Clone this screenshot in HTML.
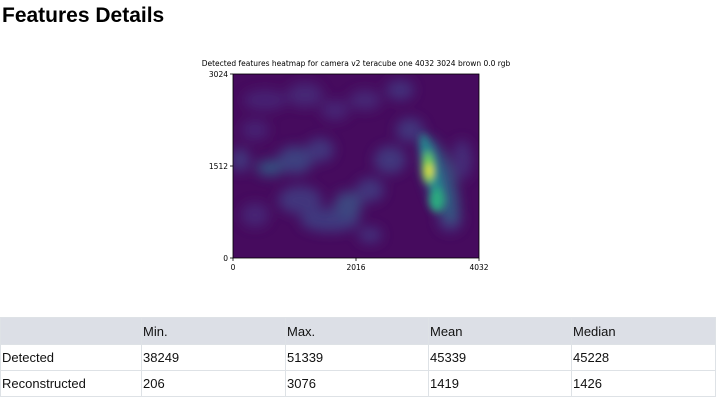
<!DOCTYPE html>
<html><head><meta charset="utf-8"><style>
body{margin:0;width:718px;height:402px;background:#fff;font-family:"Liberation Sans",Arial,sans-serif;position:relative;overflow:hidden}
h1{position:absolute;left:2px;top:4px;margin:0;font-size:21px;font-weight:bold;color:#000}
table{position:absolute;left:0;top:317px;border-collapse:collapse;width:716px;font-size:13px;color:#111}
td,th{border:1px solid #dee2e6;padding:0 0 0 1px;text-align:left;font-weight:normal;height:25px}
thead th{background:#dcdfe6;height:26px}
.t{font-size:7.5px;font-family:"DejaVu Sans",sans-serif;fill:#000}
</style></head><body>
<h1>Features Details</h1>
<svg width="718" height="300" style="position:absolute;left:0;top:0">
<defs>
<filter id="b" x="-30%" y="-30%" width="160%" height="160%"><feGaussianBlur stdDeviation="6"/></filter>
<filter id="b2" x="-50%" y="-50%" width="200%" height="200%"><feGaussianBlur stdDeviation="4"/></filter>
<clipPath id="c"><rect x="233" y="74" width="246" height="184"/></clipPath>
</defs>
<text class="t" x="356" y="66" text-anchor="middle">Detected features heatmap for camera v2 teracube one 4032 3024 brown 0.0 rgb</text>
<g clip-path="url(#c)">
<rect x="233" y="74" width="246" height="184" fill="#460b5e"/>
<g filter="url(#b)" opacity="0.75">
<ellipse cx="240" cy="160" rx="10" ry="12" fill="#3f4788"/>
<ellipse cx="270" cy="168" rx="14" ry="8" fill="#2e6b8e"/>
<ellipse cx="295" cy="160" rx="18" ry="14" fill="#3b528b"/>
<ellipse cx="320" cy="150" rx="14" ry="12" fill="#414487"/>
<ellipse cx="300" cy="200" rx="22" ry="14" fill="#414487"/>
<ellipse cx="330" cy="220" rx="30" ry="12" fill="#3e4a89"/>
<ellipse cx="348" cy="205" rx="14" ry="14" fill="#3b5b8c"/>
<ellipse cx="370" cy="190" rx="14" ry="12" fill="#414487"/>
<ellipse cx="370" cy="235" rx="12" ry="8" fill="#433e85"/>
<ellipse cx="265" cy="100" rx="22" ry="10" fill="#472c7a"/>
<ellipse cx="305" cy="95" rx="18" ry="12" fill="#46337e"/>
<ellipse cx="335" cy="110" rx="14" ry="10" fill="#472f7d"/>
<ellipse cx="365" cy="100" rx="16" ry="10" fill="#46337e"/>
<ellipse cx="400" cy="90" rx="14" ry="10" fill="#433e85"/>
<ellipse cx="410" cy="130" rx="14" ry="12" fill="#414487"/>
<ellipse cx="390" cy="160" rx="16" ry="14" fill="#3f4788"/>
<ellipse cx="255" cy="215" rx="14" ry="12" fill="#472f7d"/>
<ellipse cx="255" cy="130" rx="14" ry="10" fill="#472c7a"/>
<ellipse cx="462" cy="160" rx="10" ry="20" fill="#453781"/>
<ellipse cx="450" cy="220" rx="12" ry="12" fill="#433e85"/>
<ellipse cx="440" cy="180" rx="14" ry="45" fill="#2f6f8e" transform="rotate(-18 440 180)"/>
</g>
<g filter="url(#b2)">
<ellipse cx="432" cy="170" rx="7" ry="38" fill="#25858e" transform="rotate(-15 432 170)"/>
<ellipse cx="437" cy="200" rx="8" ry="12" fill="#2aaa80"/>
<ellipse cx="428" cy="168" rx="6" ry="16" fill="#6ccd5a"/>
<ellipse cx="429" cy="171" rx="3" ry="7" fill="#fde725"/>
</g>
</g>
<rect x="233" y="74" width="246" height="184" fill="none" stroke="#000" stroke-width="0.8"/>
<g stroke="#000" stroke-width="0.8">
<line x1="230" y1="74" x2="233" y2="74"/><line x1="230" y1="166" x2="233" y2="166"/><line x1="230" y1="258" x2="233" y2="258"/>
<line x1="233" y1="258" x2="233" y2="261"/><line x1="356" y1="258" x2="356" y2="261"/><line x1="479" y1="258" x2="479" y2="261"/>
</g>
<text class="t" x="228" y="77" text-anchor="end">3024</text>
<text class="t" x="228" y="169" text-anchor="end">1512</text>
<text class="t" x="228" y="261" text-anchor="end">0</text>
<text class="t" x="233" y="270" text-anchor="middle">0</text>
<text class="t" x="356" y="270" text-anchor="middle">2016</text>
<text class="t" x="479" y="270" text-anchor="middle">4032</text>
</svg>
<table>
<colgroup><col style="width:141px"><col style="width:144px"><col style="width:143px"><col style="width:143px"><col></colgroup>
<thead><tr><th></th><th>Min.</th><th>Max.</th><th>Mean</th><th>Median</th></tr></thead>
<tbody>
<tr><td>Detected</td><td>38249</td><td>51339</td><td>45339</td><td>45228</td></tr>
<tr><td>Reconstructed</td><td>206</td><td>3076</td><td>1419</td><td>1426</td></tr>
</tbody></table>
</body></html>
